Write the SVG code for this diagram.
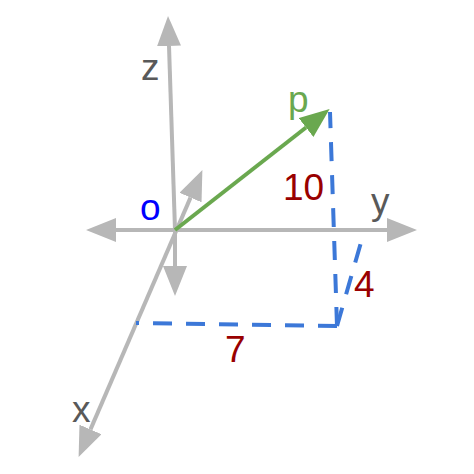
<svg xmlns="http://www.w3.org/2000/svg" width="474" height="474" viewBox="0 0 474 474">
  <style>
    .axis { stroke: #b7b7b7; stroke-width: 4; fill: none; marker-end: url(#ga); }
    .dash { stroke: #3c78d8; stroke-width: 4; fill: none; stroke-dasharray: 19 14; }
    .lbl { font-family: "Liberation Sans", Arial, sans-serif; font-size: 37px; }
    .axl { fill: #595959; }
    .num { fill: #990000; }
  </style>
  <defs>
    <marker id="ga" viewBox="0 0 30 24" refX="0" refY="12" markerWidth="30" markerHeight="24" markerUnits="userSpaceOnUse" orient="auto-start-reverse">
      <path d="M0,0 L30,12 L0,24 Z" fill="#b7b7b7"/>
    </marker>
    <marker id="gr" viewBox="0 0 30 24" refX="0" refY="12" markerWidth="30" markerHeight="24" markerUnits="userSpaceOnUse" orient="auto">
      <path d="M0,0 L30,12 L0,24 Z" fill="#6aa84f"/>
    </marker>
  </defs>
  <g id="connectors">
    <line id="z-axis" class="axis" x1="175" y1="230" x2="169" y2="46"/>
    <line id="neg-z" class="axis" x1="175" y1="230" x2="175" y2="266"/>
    <line id="y-axis" class="axis" x1="116" y1="230" x2="387" y2="230" style="marker-start:url(#ga)"/>
    <line id="x-axis" class="axis" x1="190.5" y1="197.6" x2="90.5" y2="429.4" style="marker-start:url(#ga)"/>
    <line id="vec-p" x1="175" y1="230" x2="306" y2="127.5" stroke="#6aa84f" stroke-width="4" marker-end="url(#gr)"/>
    <path id="dash-7" class="dash" d="M337,326 L136,323"/>
    <path id="dash-10" class="dash" d="M337,326 L330,112"/>
    <path id="dash-4" class="dash" d="M337,326 L364,232"/>
  </g>
  <g id="label-z"><text class="lbl axl" x="141" y="80">z</text></g>
  <g id="label-y"><text class="lbl axl" x="371" y="214">y</text></g>
  <g id="label-x"><text class="lbl axl" x="72" y="422">x</text></g>
  <g id="label-o"><text class="lbl" x="140" y="220" fill="#0000ff">o</text></g>
  <g id="label-p"><text class="lbl" x="288" y="112" fill="#6aa84f">p</text></g>
  <g id="label-10"><text class="lbl num" x="283" y="200">10</text></g>
  <g id="label-4"><text class="lbl num" x="354" y="297">4</text></g>
  <g id="label-7"><text class="lbl num" x="225" y="362">7</text></g>
</svg>
